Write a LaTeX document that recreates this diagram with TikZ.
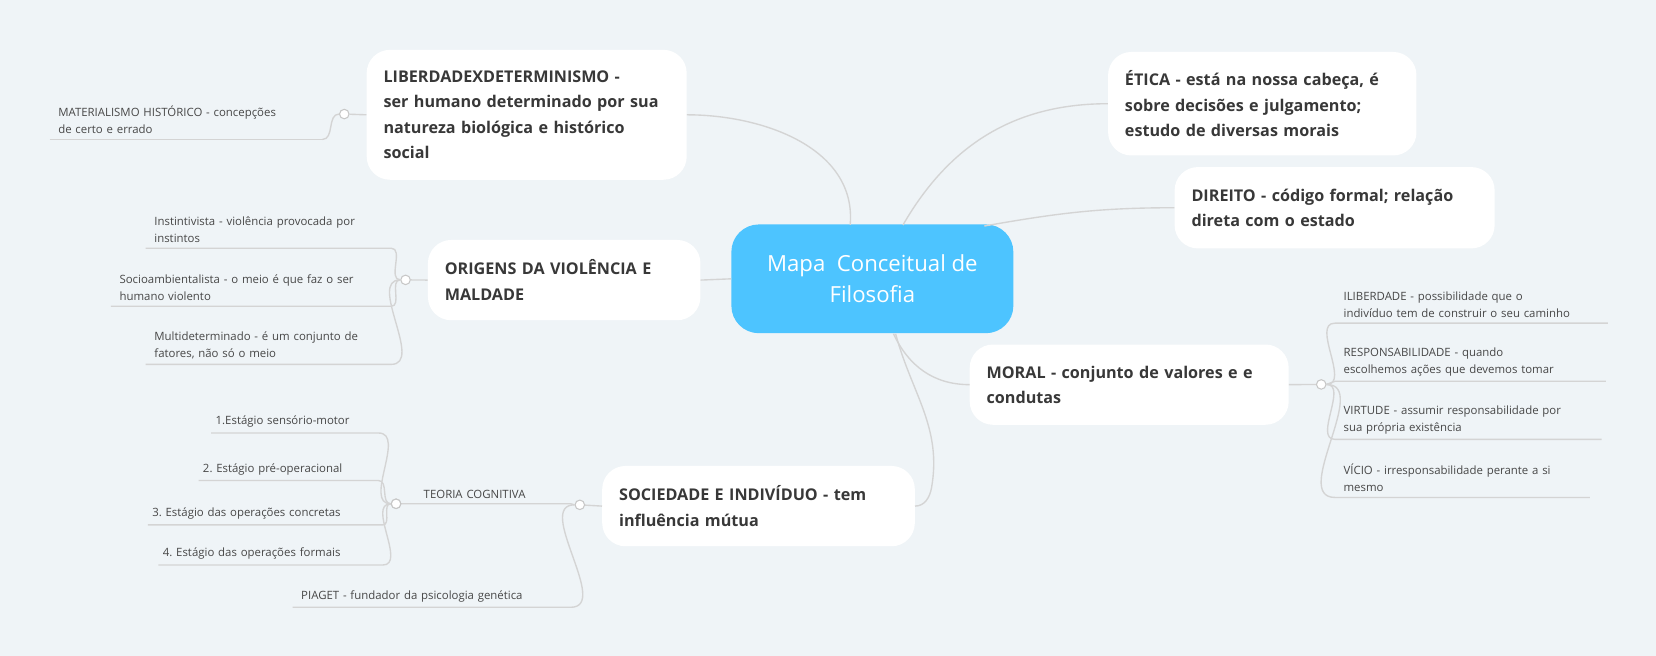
\documentclass[tikz,border=0pt]{standalone}
\usepackage{fontspec}
\setmainfont{Open Sans}
\frenchspacing
\begin{document}
\begin{tikzpicture}[x=1pt,y=-1pt,
  ln/.style={draw=black!17,line width=1.3pt},
  main/.style={fill=white,rounded corners=22pt,align=left,font=\bfseries\fontsize{15.3}{24}\selectfont,text=black!78,inner xsep=16pt,anchor=north west},
  leaf/.style={align=left,font=\fontsize{10.8}{16}\selectfont,text=black!72,anchor=south west,inner xsep=8pt,inner ysep=5pt},
  dot/.style={circle,draw=black!22,line width=1pt,fill=white,inner sep=0pt,minimum size=9pt}]
\definecolor{bgc}{HTML}{EFF4F7}
\definecolor{cc}{HTML}{4DC4FF}
\fill[bgc] (0,0) rectangle (1568,621);
\useasboundingbox (0,0) rectangle (1568,621);
% main nodes
\node[fill=cc,rounded corners=26pt,minimum width=267pt,minimum height=103pt,align=center,text=white,font=\fontsize{21}{30}\selectfont] (c) at (826,264) {Mapa\ \ Conceitual de\\Filosofia};
\node[main,text width=271pt,minimum height=123pt] (lib) at (347,47) {LIBERDADEXDETERMINISMO -\\ser humano determinado por sua\\natureza biológica e histórico\\social};
\node[main,text width=260pt,minimum height=98pt] (eti) at (1049,49) {ÉTICA - está na nossa cabeça, é\\sobre decisões e julgamento;\\estudo de diversas morais};
\node[main,text width=271pt,minimum height=77pt] (dir) at (1112,158) {DIREITO - código formal; relação\\direta com o estado};
\node[main,text width=226pt,minimum height=76pt] (ori) at (405,227) {ORIGENS DA VIOLÊNCIA E\\MALDADE};
\node[main,text width=270pt,minimum height=76pt] (mor) at (918,326) {MORAL - conjunto de valores e e\\condutas};
\node[main,text width=264pt,minimum height=76pt] (soc) at (570,441) {SOCIEDADE E INDIVÍDUO - tem\\influência mútua};
% main connectors
\draw[ln] (805,213) to[out=85,in=0] (lib.east);
\draw[ln] (855,213) to[out=60,in=180] (eti.west);
\draw[ln] (932,214) to[out=10,in=180] (dir.west);
\draw[ln] (c.west) -- (ori.east);
\draw[ln] (846,316) to[out=-65,in=180] (mor.west);
\draw[ln] (848,316) to[out=-75,in=80] (882,462) to[out=-100,in=0] (soc.east);
% liberdade leaf
\node[leaf,text width=242pt] (l1) at (47,132) {MATERIALISMO HISTÓRICO - concepções\\de certo e errado};
\draw[ln] (l1.south west) -- (l1.south east);
\node[dot] (d1) at (326,108) {};
\draw[ln] (lib.west) -- (d1);
\draw[ln] (d1.west) to[out=180,in=0] (l1.south east);
% origens leaves
\node[dot] (d2) at (384,265) {};
\draw[ln] (ori.west) -- (d2);
\node[leaf,text width=216pt] (o1) at (138,235) {Instintivista - violência provocada por\\instintos};
\node[leaf,text width=249pt] (o2) at (105,290) {Socioambientalista - o meio é que faz o ser\\humano violento};
\node[leaf,text width=216pt] (o3) at (138,345) {Multideterminado - é um conjunto de\\fatores, não só o meio};
\foreach \n in {o1,o2,o3}{\draw[ln] (\n.south west) -- (\n.south east) to[out=0,in=180] (d2.west);}
% moral leaves
\node[dot] (d3) at (1251,364) {};
\draw[ln] (mor.east) -- (d3);
\node[leaf,text width=242pt] (m1) at (1264,306) {ILIBERDADE - possibilidade que o\\indivíduo tem de construir o seu caminho};
\node[leaf,text width=240pt] (m2) at (1264,361) {RESPONSABILIDADE - quando\\escolhemos ações que devemos tomar};
\node[leaf,text width=236pt] (m3) at (1264,416) {VIRTUDE - assumir responsabilidade por\\sua própria existência};
\node[leaf,text width=225pt] (m4) at (1264,471) {VÍCIO - irresponsabilidade perante a si\\mesmo};
\foreach \n in {m1,m2,m3,m4}{\draw[ln] (\n.south east) -- (\n.south west) to[out=180,in=0] (d3.east);}
% sociedade leaves
\node[dot] (d4) at (549,478) {};
\draw[ln] (soc.west) -- (d4);
\node[leaf,text width=149pt,inner xsep=8pt] (tc) at (375,477) {\hspace{18pt}TEORIA COGNITIVA};
\node[leaf,text width=247pt] (pi) at (277,575) {PIAGET - fundador da psicologia genética};
\draw[ln] (tc.south west) -- (tc.south east) to[out=0,in=180] (d4.west);
\draw[ln] (pi.south west) -- (pi.south east) to[out=0,in=180] (d4.west);
\node[dot] (d5) at (375,477) {};
\node[leaf,text width=150pt,inner xsep=4pt] (t1) at (200,410) {1.Estágio sensório-motor};
\node[leaf,text width=162pt,inner xsep=4pt] (t2) at (188,455) {2. Estágio pré-operacional};
\node[leaf,text width=214pt,inner xsep=4pt] (t3) at (140,497) {3. Estágio das operações concretas};
\node[leaf,text width=204pt,inner xsep=4pt] (t4) at (150,535) {4. Estágio das operações formais};
\foreach \n in {t1,t2,t3,t4}{\draw[ln] (\n.south west) -- (\n.south east) to[out=0,in=180] (d5.west);}
\node[dot] at (375,477) {};
\end{tikzpicture}
\end{document}
